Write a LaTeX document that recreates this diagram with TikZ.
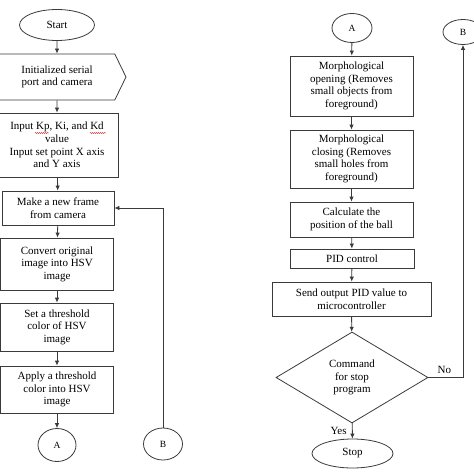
\documentclass[tikz,border=0pt]{standalone}
\usepackage{fontspec}
\setmainfont{Liberation Serif}
\usetikzlibrary{shapes.geometric, shapes.symbols, arrows.meta, positioning, decorations.pathmorphing}
\definecolor{linegray}{HTML}{3A3A3A}

\begin{document}
\begin{tikzpicture}[x=1pt, y=-1pt,
    every node/.style={font=\fontsize{11}{12.6}\selectfont},
    block/.style={draw=linegray, line width=0.8pt, align=center, inner sep=2pt},
    terminal/.style={draw=linegray, line width=0.8pt, ellipse, inner sep=0pt},
    connector/.style={draw=linegray, line width=0.8pt, ellipse, inner sep=0pt,
                      minimum width=39pt, minimum height=32pt, font=\fontsize{9.5}{11}\selectfont},
    prep/.style={draw=linegray, line width=0.8pt, signal, signal to=east and west,
                 signal pointer angle=128, align=center, inner sep=2pt},
    decision/.style={draw=linegray, line width=0.8pt, diamond, align=center, inner sep=0pt},
    flow/.style={draw=linegray, line width=0.8pt, -{Latex[length=5pt, width=4.5pt]}},
    spellwave/.style={draw=red!80!black, line width=0.4pt, decorate,
                      decoration={snake, amplitude=0.5pt, segment length=2pt}}
]
    \useasboundingbox (0,0) rectangle (474,474);
    \clip (0,0) rectangle (474,474);

    % Left column: setup and image processing
    \node[terminal, minimum width=75pt, minimum height=31pt] (start) at (57,25) {Start};
    \node[prep, minimum width=138pt, minimum height=46pt] (init) at (57,77)
        {Initialized serial\\port and camera};
    \node[block, minimum width=122pt, minimum height=64pt] (input) at (57,145)
        {Input Kp, Ki, and Kd\\value\\Input set point X axis\\and Y axis};
    \node[block, minimum width=112pt, minimum height=34pt] (frame) at (58,208)
        {Make a new frame\\from camera};
    \node[block, minimum width=113pt, minimum height=52pt] (convert) at (57,264)
        {Convert original\\image into HSV\\image};
    \node[block, minimum width=113pt, minimum height=48pt] (thresh) at (57,327)
        {Set a threshold\\color of HSV\\image};
    \node[block, minimum width=113pt, minimum height=47pt] (apply) at (57,389.5)
        {Apply a threshold\\color into HSV\\image};
    \node[connector, minimum width=38pt, minimum height=33pt] (conA) at (57,445) {A};
    \node[connector] (conB) at (163,444) {B};

    % spell-check marks under Kp and Kd
    \draw[spellwave] (35,133) -- (49,133);
    \draw[spellwave] (90,133) -- (106,133);

    % Right column: ball position and PID
    \node[connector, minimum width=40pt, minimum height=29pt] (inA) at (352,28) {A};
    \node[connector, minimum width=40pt, minimum height=25pt] (backB) at (463,32) {B};
    \node[block, minimum width=123pt, minimum height=60pt] (opening) at (351.5,86)
        {Morphological\\opening (Removes\\small objects from\\foreground)};
    \node[block, minimum width=123pt, minimum height=58pt] (closing) at (351.5,159)
        {Morphological\\closing (Removes\\small holes from\\foreground)};
    \node[block, minimum width=123pt, minimum height=35pt] (ballpos) at (351.5,219.5)
        {Calculate the\\position of the ball};
    \node[block, minimum width=124pt, minimum height=19pt] (pid) at (352,258.5) {PID control};
    \node[block, minimum width=159pt, minimum height=34pt] (sendout) at (351.5,299)
        {Send output PID value to\\microcontroller};
    \node[decision, minimum width=152pt, minimum height=91pt] (stopcmd) at (352,377.5)
        {Command\\for stop\\program};
    \node[terminal, minimum width=81pt, minimum height=29pt] (stop) at (352.5,453.5) {Stop};

    % Arrows
    \draw[flow] (start) -- (init);
    \draw[flow] (init) -- (input);
    \draw[flow] (input) -- (frame);
    \draw[flow] (frame) -- (convert);
    \draw[flow] (convert) -- (thresh);
    \draw[flow] (thresh) -- (apply);
    \draw[flow] (apply) -- (conA);
    \draw[flow] (conB) |- (frame);

    \draw[flow] (inA) -- (opening);
    \draw[flow] (opening) -- (closing);
    \draw[flow] (closing) -- (ballpos);
    \draw[flow] (ballpos) -- (pid);
    \draw[flow] (pid) -- (sendout);
    \draw[flow] (sendout) -- (stopcmd);
    \draw[flow] (stopcmd) -- (stop) node[midway, left, xshift=-2pt] {Yes};
    \draw[flow] (stopcmd.east) -| (backB) node[pos=0.23, above] {No};
\end{tikzpicture}
\end{document}
